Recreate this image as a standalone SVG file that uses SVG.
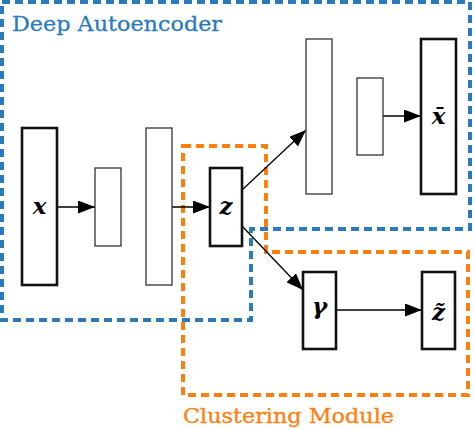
<svg xmlns="http://www.w3.org/2000/svg" width="474" height="429" viewBox="0 0 474 429">
<style>
.thin{fill:#fff;stroke:#333;stroke-width:1.3}
.thick{fill:#fff;stroke:#111;stroke-width:2.6}
.conn{stroke:#000;stroke-width:1.3;fill:none;marker-end:url(#ah)}
.lbl{font-family:"DejaVu Serif",serif;font-weight:bold;font-style:italic;font-size:23px;text-anchor:middle;fill:#000}
.reg{fill:none;stroke-width:4;stroke-dasharray:8 5}
.title{font-family:"DejaVu Serif",serif;font-size:21px;stroke-width:0.3}
</style>
<defs>
<marker id="ah" markerUnits="userSpaceOnUse" markerWidth="18" markerHeight="13" refX="17" refY="6.5" orient="auto">
<path d="M0,0 L17,6.5 L0,13 Z" fill="#000"/>
</marker>
</defs>
<g id="regions">
<path id="deep-autoencoder-region" class="reg" stroke="#2b7bba" d="M2,2 H470 V229 H251 V320 H2 Z"/>
<path id="clustering-region" class="reg" stroke="#ff7f0e" d="M183,146 H266 V252 H468 V395 H183 Z"/>
<text class="title" x="12" y="31" fill="#2b7bba" stroke="#2b7bba" textLength="210" lengthAdjust="spacingAndGlyphs">Deep Autoencoder</text>
<text class="title" x="183" y="423" fill="#ff7f0e" stroke="#ff7f0e" textLength="211" lengthAdjust="spacingAndGlyphs">Clustering Module</text>
</g>
<g id="connectors">
<line class="conn" x1="57" y1="207" x2="95" y2="207"/>
<line class="conn" x1="172" y1="207" x2="210" y2="207"/>
<line class="conn" x1="242" y1="190" x2="306" y2="130"/>
<line class="conn" x1="383" y1="116" x2="421" y2="116"/>
<line class="conn" x1="242" y1="226" x2="303" y2="290"/>
<line class="conn" x1="336" y1="310" x2="422" y2="310"/>
</g>
<g id="node-x"><rect class="thick" x="22" y="128" width="35" height="157"/><text class="lbl" x="39.5" y="214">x</text></g>
<g id="node-enc1"><rect class="thin" x="95" y="168" width="26" height="78"/></g>
<g id="node-enc2"><rect class="thin" x="146" y="128" width="26" height="157"/></g>
<g id="node-z"><rect class="thick" x="210" y="168" width="32" height="78"/><text class="lbl" x="226" y="214">z</text></g>
<g id="node-dec1"><rect class="thin" x="306" y="39" width="26" height="155"/></g>
<g id="node-dec2"><rect class="thin" x="357" y="78" width="26" height="77"/></g>
<g id="node-xbar"><rect class="thick" x="421" y="39" width="35" height="155"/><text class="lbl" x="438.5" y="124">x̄</text></g>
<g id="node-gamma"><rect class="thick" x="303" y="272" width="33" height="77"/><text class="lbl" x="319.5" y="314">γ</text></g>
<g id="node-ztilde"><rect class="thick" x="422" y="272" width="33" height="77"/><text class="lbl" x="438.5" y="320">z̃</text></g>
</svg>
